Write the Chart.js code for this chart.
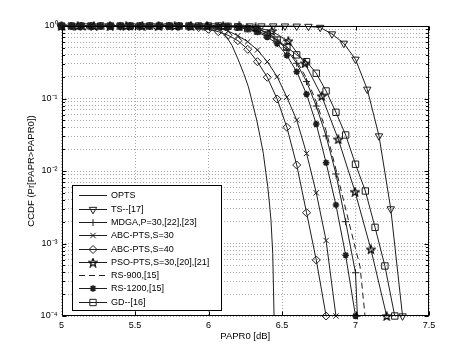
<!DOCTYPE html>
<html><head><meta charset="utf-8">
<script src="https://cdn.jsdelivr.net/npm/chart.js@4"></script>
<style>html,body{margin:0;padding:0;background:#fff;}canvas{display:block;}</style>
</head><body>
<canvas id="c" width="474" height="356"></canvas>
<script>
// ---------- tick labels ----------
const xTicks = [5, 5.5, 6, 6.5, 7, 7.5];
const xTickLabels = ['5', '5.5', '6', '6.5', '7', '7.5'];
const yMajorTicks = [1e-4, 1e-3, 1e-2, 1e-1, 1];
const yTickLabels = ['10\u207B\u2074', '10\u207B\u00B3', '10\u207B\u00B2', '10\u207B\u00B9', '10\u2070'];

// ---------- series names ----------
const seriesNames = ['OPTS', 'TS--[17]', 'MDGA,P=30,[22],[23]', 'ABC-PTS,S=30', 'ABC-PTS,S=40',
  'PSO-PTS,S=30,[20],[21]', 'RS-900,[15]', 'RS-1200,[15]', 'GD--[16]'];

// ---------- series values (PAPR0 in dB, CCDF) ----------
const optsX = [5.0, 5.5, 5.8, 5.9, 5.95, 6.0, 6.044, 6.08, 6.12, 6.16, 6.203, 6.24, 6.271, 6.3, 6.328, 6.352, 6.373, 6.39, 6.403, 6.415, 6.425, 6.437, 6.446];
const optsY = [1, 1, 0.999, 0.995, 0.985, 0.965, 0.93, 0.85, 0.72, 0.54, 0.34, 0.22, 0.146, 0.085, 0.0505, 0.029, 0.0175, 0.0095, 0.0061, 0.0035, 0.0021, 0.00073, 0.0001];

const tsX = [5.00, 5.08, 5.16, 5.24, 5.32, 5.40, 5.48, 5.56, 5.64, 5.72, 5.80, 5.88, 5.96, 6.04, 6.12, 6.20, 6.28, 6.36, 6.44, 6.52, 6.60, 6.68, 6.76, 6.84, 6.92, 7.00, 7.08, 7.16, 7.24, 7.32];
const tsY = [1, 1, 1, 1, 1, 1, 1, 1, 1, 1, 1, 1, 1, 1, 1, 1, 1, 1, 0.999, 0.997, 0.993, 0.985, 0.955, 0.776, 0.577, 0.347, 0.134, 0.0304, 0.003, 0.0001];

const mdgaX = [5.000, 5.067, 5.133, 5.200, 5.267, 5.333, 5.400, 5.467, 5.533, 5.600, 5.667, 5.733, 5.800, 5.867, 5.933, 6.000, 6.067, 6.133, 6.200, 6.267, 6.333, 6.400, 6.467, 6.533, 6.600, 6.667, 6.733, 6.800, 6.867, 6.933, 7.000, 7.013];
const mdgaY = [1, 1, 1, 1, 1, 1, 1, 1, 1, 1, 1, 1, 1, 1, 1, 1, 1, 0.995, 0.985, 0.96, 0.91, 0.80, 0.64, 0.47, 0.306, 0.171, 0.0788, 0.0304, 0.0091, 0.002, 0.000395, 0.0001];

const abc30X = [5.000, 5.067, 5.133, 5.200, 5.267, 5.333, 5.400, 5.467, 5.533, 5.600, 5.667, 5.733, 5.800, 5.867, 5.933, 6.000, 6.067, 6.133, 6.200, 6.267, 6.333, 6.400, 6.467, 6.533, 6.600, 6.667, 6.733, 6.800, 6.867];
const abc30Y = [1, 1, 1, 1, 1, 1, 1, 1, 1, 1, 1, 1, 1, 1, 0.993, 0.978, 0.94, 0.85, 0.735, 0.607, 0.467, 0.322, 0.2, 0.104, 0.0505, 0.0175, 0.005, 0.0011, 0.0001];

const abc40X = [5.000, 5.067, 5.133, 5.200, 5.267, 5.333, 5.400, 5.467, 5.533, 5.600, 5.667, 5.733, 5.800, 5.867, 5.933, 6.000, 6.067, 6.133, 6.200, 6.267, 6.333, 6.400, 6.467, 6.533, 6.600, 6.667, 6.733, 6.800];
const abc40Y = [1, 1, 1, 1, 1, 1, 1, 1, 1, 1, 1, 1, 0.997, 0.98, 0.953, 0.9, 0.835, 0.745, 0.627, 0.477, 0.322, 0.196, 0.0984, 0.0401, 0.0121, 0.00266, 0.000592, 0.0001];

const psoX = [5.0, 5.11, 5.22, 5.33, 5.44, 5.55, 5.66, 5.77, 5.88, 5.99, 6.10, 6.21, 6.32, 6.43, 6.543, 6.656, 6.77, 6.883, 6.997, 7.105, 7.212];
const psoY = [1, 1, 1, 1, 1, 1, 1, 1, 1, 1, 1, 0.99, 0.955, 0.85, 0.62, 0.306, 0.108, 0.0274, 0.00518, 0.00083, 0.0001];

const rs900X = [5.0, 6.1, 6.2, 6.267, 6.333, 6.4, 6.467, 6.533, 6.6, 6.667, 6.733, 6.8, 6.867, 6.933, 7.0, 7.031, 7.065];
const rs900Y = [1, 0.998, 0.988, 0.965, 0.915, 0.81, 0.66, 0.49, 0.33, 0.19, 0.09, 0.036, 0.0105, 0.003, 0.00085, 0.00048, 0.0001];

const rs1200X = [5.000, 5.067, 5.133, 5.200, 5.267, 5.333, 5.400, 5.467, 5.533, 5.600, 5.667, 5.733, 5.800, 5.867, 5.933, 6.000, 6.067, 6.133, 6.200, 6.267, 6.333, 6.400, 6.467, 6.533, 6.600, 6.667, 6.733, 6.800, 6.867, 6.933, 7.000];
const rs1200Y = [1, 1, 1, 1, 1, 1, 1, 1, 1, 1, 1, 1, 1, 1, 1, 1, 0.993, 0.98, 0.955, 0.91, 0.83, 0.705, 0.57, 0.394, 0.234, 0.115, 0.0445, 0.013, 0.0034, 0.00069, 0.0001];

const gdX = [5.000, 5.067, 5.133, 5.200, 5.267, 5.333, 5.400, 5.467, 5.533, 5.600, 5.667, 5.733, 5.800, 5.867, 5.933, 6.000, 6.067, 6.133, 6.200, 6.267, 6.333, 6.400, 6.467, 6.533, 6.600, 6.667, 6.733, 6.800, 6.867, 6.933, 7.000, 7.067, 7.133, 7.200, 7.267];
const gdY = [1, 1, 1, 1, 1, 1, 1, 1, 1, 1, 1, 1, 1, 1, 1, 1, 1, 0.99, 0.97, 0.92, 0.85, 0.75, 0.64, 0.51, 0.40, 0.322, 0.223, 0.127, 0.0645, 0.0314, 0.0124, 0.0053, 0.00167, 0.00049, 0.0001];

// ---------- helpers ----------
const pts = (xs, ys) => xs.map((x, i) => ({x: x, y: ys[i]}));
const LINE = '#1e1e1e';
const FONT = 'Liberation Sans, Arial, Helvetica, sans-serif';

function makePentagram() {
  const c = document.createElement('canvas');
  c.width = 10; c.height = 10;
  const g = c.getContext('2d');
  g.strokeStyle = '#000'; g.lineWidth = 1.2;
  g.beginPath();
  for (let i = 0; i < 10; i++) {
    const r = i % 2 === 0 ? 4.4 : 1.9;
    const a = -Math.PI / 2 + i * Math.PI / 5;
    const px = 5 + r * Math.cos(a), py = 5.4 + r * Math.sin(a);
    if (i === 0) g.moveTo(px, py); else g.lineTo(px, py);
  }
  g.closePath(); g.stroke();
  return c;
}
const pentagram = makePentagram();

function mk(label, xs, ys, marker) {
  const ds = {
    label: label, data: pts(xs, ys), borderColor: LINE, borderWidth: 1,
    backgroundColor: 'rgba(0,0,0,0)', pointBorderColor: LINE, pointBackgroundColor: 'rgba(0,0,0,0)',
    pointBorderWidth: 1, tension: 0, clip: false, fill: false
  };
  if (marker) { Object.assign(ds, marker); } else { ds.pointRadius = 0; }
  return ds;
}

const datasets = [
  mk(seriesNames[0], optsX, optsY, null),
  mk(seriesNames[1], tsX, tsY, {pointStyle: 'triangle', pointRadius: 4.3, pointRotation: 180}),
  mk(seriesNames[2], mdgaX, mdgaY, {pointStyle: 'cross', pointRadius: 3.5}),
  mk(seriesNames[3], abc30X, abc30Y, {pointStyle: 'crossRot', pointRadius: 3.8}),
  mk(seriesNames[4], abc40X, abc40Y, {pointStyle: 'rectRot', pointRadius: 4}),
  mk(seriesNames[5], psoX, psoY, {pointStyle: pentagram, pointRadius: 4.5}),
  mk(seriesNames[6], rs900X, rs900Y, null),
  mk(seriesNames[7], rs1200X, rs1200Y, {pointStyle: 'star', pointRadius: 3.3, pointBorderWidth: 1.6}),
  mk(seriesNames[8], gdX, gdY, {pointStyle: 'rect', pointRadius: 4.5})
];
datasets[6].borderDash = [6, 4];

// y grid values (major + minor) built from the major tick list
const yGridValues = [];
for (let i = 0; i < yMajorTicks.length - 1; i++) {
  for (let j = 1; j <= 9; j++) yGridValues.push(j * yMajorTicks[i]);
}
yGridValues.push(yMajorTicks[yMajorTicks.length - 1]);
const majorIndex = v => yMajorTicks.findIndex(m => Math.abs(Math.log10(v) - Math.log10(m)) < 1e-6);

// ---------- plugins ----------
const frameAndLegend = {
  id: 'frameAndLegend',
  afterDatasetsDraw(chart) {
    const ctx = chart.ctx, a = chart.chartArea;
    const xs = chart.scales.x, ys = chart.scales.y;
    ctx.save();
    ctx.strokeStyle = '#000'; ctx.lineWidth = 1; ctx.setLineDash([]);
    const L = Math.round(a.left) + 0.5, R = Math.round(a.right) - 0.5;
    const T = Math.round(a.top) + 0.5, B = Math.round(a.bottom) - 0.5;
    ctx.strokeRect(L, T, R - L, B - T);
    ctx.beginPath();
    xTicks.forEach(v => {
      const px = Math.round(xs.getPixelForValue(v)) + 0.5;
      ctx.moveTo(px, B); ctx.lineTo(px, B - 4);
      ctx.moveTo(px, T); ctx.lineTo(px, T + 4);
    });
    yGridValues.forEach(v => {
      const py = Math.round(ys.getPixelForValue(v)) + 0.5;
      const len = majorIndex(v) >= 0 ? 4 : 2.5;
      ctx.moveTo(L, py); ctx.lineTo(L + len, py);
      ctx.moveTo(R, py); ctx.lineTo(R - len, py);
    });
    ctx.stroke();
    ctx.restore();
  },
  afterDraw(chart) {
    const ctx = chart.ctx;
    const box = {x: 72.5, y: 185.5, w: 149, h: 125};
    ctx.save();
    ctx.fillStyle = '#fff';
    ctx.fillRect(box.x, box.y, box.w, box.h);
    ctx.strokeStyle = '#000'; ctx.lineWidth = 1;
    ctx.strokeRect(box.x, box.y, box.w, box.h);
    chart.data.datasets.forEach((ds, i) => {
      const y = Math.round(195.3 + i * 13.3) + 0.5;
      ctx.strokeStyle = ds.borderColor; ctx.lineWidth = ds.borderWidth;
      ctx.setLineDash(ds.borderDash || []);
      ctx.beginPath(); ctx.moveTo(79, y); ctx.lineTo(107, y); ctx.stroke();
      ctx.setLineDash([]);
      if (ds.pointRadius) {
        ctx.strokeStyle = ds.pointBorderColor; ctx.fillStyle = 'rgba(0,0,0,0)';
        ctx.lineWidth = ds.pointBorderWidth;
        Chart.helpers.drawPoint(ctx, {pointStyle: ds.pointStyle, radius: ds.pointRadius,
          borderWidth: ds.pointBorderWidth, rotation: ds.pointRotation || 0}, 93, y);
      }
      ctx.fillStyle = '#000';
      ctx.font = '9px ' + FONT;
      ctx.textAlign = 'left'; ctx.textBaseline = 'middle';
      ctx.fillText(ds.label, 111, y);
    });
    ctx.restore();
  }
};

const tickFont = {family: FONT, size: 9};

new Chart(document.getElementById('c'), {
  type: 'line',
  data: {datasets: datasets},
  options: {
    responsive: false, animation: false, devicePixelRatio: 1,
    layout: {padding: {left: 0, right: 45, top: 26, bottom: 0}},
    plugins: {legend: {display: false}, tooltip: {enabled: false}},
    scales: {
      x: {
        type: 'linear', min: 5, max: 7.5,
        afterBuildTicks: s => { s.ticks = xTicks.map(v => ({value: v})); },
        afterFit: s => { s.height = 40; },
        ticks: {autoSkip: false, maxRotation: 0, padding: 4, color: '#000', font: tickFont,
          callback: (v, i) => xTickLabels[i]},
        grid: {color: '#a8a8a8', lineWidth: 1, drawTicks: false},
        border: {display: false, dash: [1, 2]},
        title: {display: true, text: 'PAPR0 [dB]', color: '#000', font: {family: FONT, size: 9.5},
          padding: {top: 0, bottom: 13.5}}
      },
      y: {
        type: 'logarithmic', min: 1e-4, max: 1,
        afterBuildTicks: s => { s.ticks = yGridValues.map(v => ({value: v})); },
        afterFit: s => { s.width = 61.5; },
        ticks: {autoSkip: false, padding: 4, color: '#000', font: tickFont,
          callback: (v) => { const k = majorIndex(v); return k >= 0 ? yTickLabels[k] : ''; }},
        grid: {color: '#a8a8a8', lineWidth: 1, drawTicks: false},
        border: {display: false, dash: [1, 2]},
        title: {display: true, text: 'CCDF (Pr[PAPR>PAPR0])', color: '#000', font: {family: FONT, size: 9.5},
          padding: {top: 25.5, bottom: 0}}
      }
    }
  },
  plugins: [frameAndLegend]
});
</script>
</body></html>
